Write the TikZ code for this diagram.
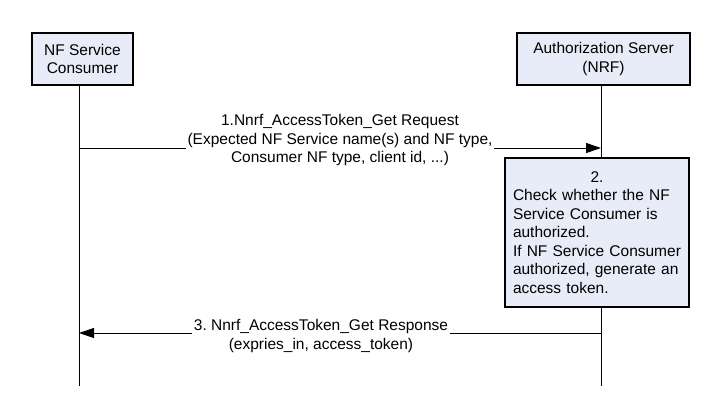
\documentclass[tikz,border=0pt]{standalone}
\usepackage{fontspec}
\setmainfont{Liberation Sans}
\usetikzlibrary{positioning, arrows.meta}
\definecolor{boxfill}{RGB}{232,236,248}
\frenchspacing
\tikzset{%
	party/.style = {rectangle, draw, line width = 1.5pt, fill = boxfill, align = center, minimum height = 52pt},
	checkbox/.style = {rectangle, draw, line width = 1.5pt, fill = boxfill, align = left, text width = 168pt, minimum width = 184pt, minimum height = 149pt, inner sep = 8pt},
	life/.style = {line width = 1pt},
	msg/.style = {line width = 1pt, -{Triangle[length = 15pt, width = 10pt]}},
	lbl/.style = {fill = white, align = center, inner sep = 1.5pt}
}

\begin{document}
\begin{tikzpicture}[x = 1pt, y = -1pt, font = \fontsize{15.5}{18.5}\selectfont]
			\useasboundingbox (0,0) rectangle (718,410);
			% lifeline ends
			\coordinate (cEnd) at (79,386);
			\coordinate (sEnd) at (601,386);
			\coordinate (c1) at (79,148);
			\coordinate (s1) at (601,148);
			\coordinate (c3) at (79,333);
			\coordinate (s3) at (601,333);
			\node [party, minimum width = 101pt] (cons) at (82.5,59) {NF Service\\Consumer};
			\node [party, minimum width = 173pt] (nrf) at (603.5,59) {Authorization Server\\(NRF)};
			\draw [life] (cEnd |- cons.south) -- (cEnd);
			\draw [life] (sEnd |- nrf.south) -- (sEnd);
			% messages
			\draw [msg] (c1) -- (s1);
			\draw [msg] (s3) -- (c3);
			\node [lbl] (req) at (340,140) {1.Nnrf\_AccessToken\_Get Request\\(Expected NF Service name(s) and NF type,\\Consumer NF type, client id, ...)};
			\node [lbl] (resp) at (321,336) {3. Nnrf\_AccessToken\_Get Response\\(expries\_in, access\_token)};
			\node [checkbox] (check) at (597,232.5) {\makebox[168pt]{2.}\\Check whether the NF\\Service Consumer is\\authorized.\\If NF Service Consumer\\authorized, generate an\\access token.};
			\end{tikzpicture}
\end{document}
